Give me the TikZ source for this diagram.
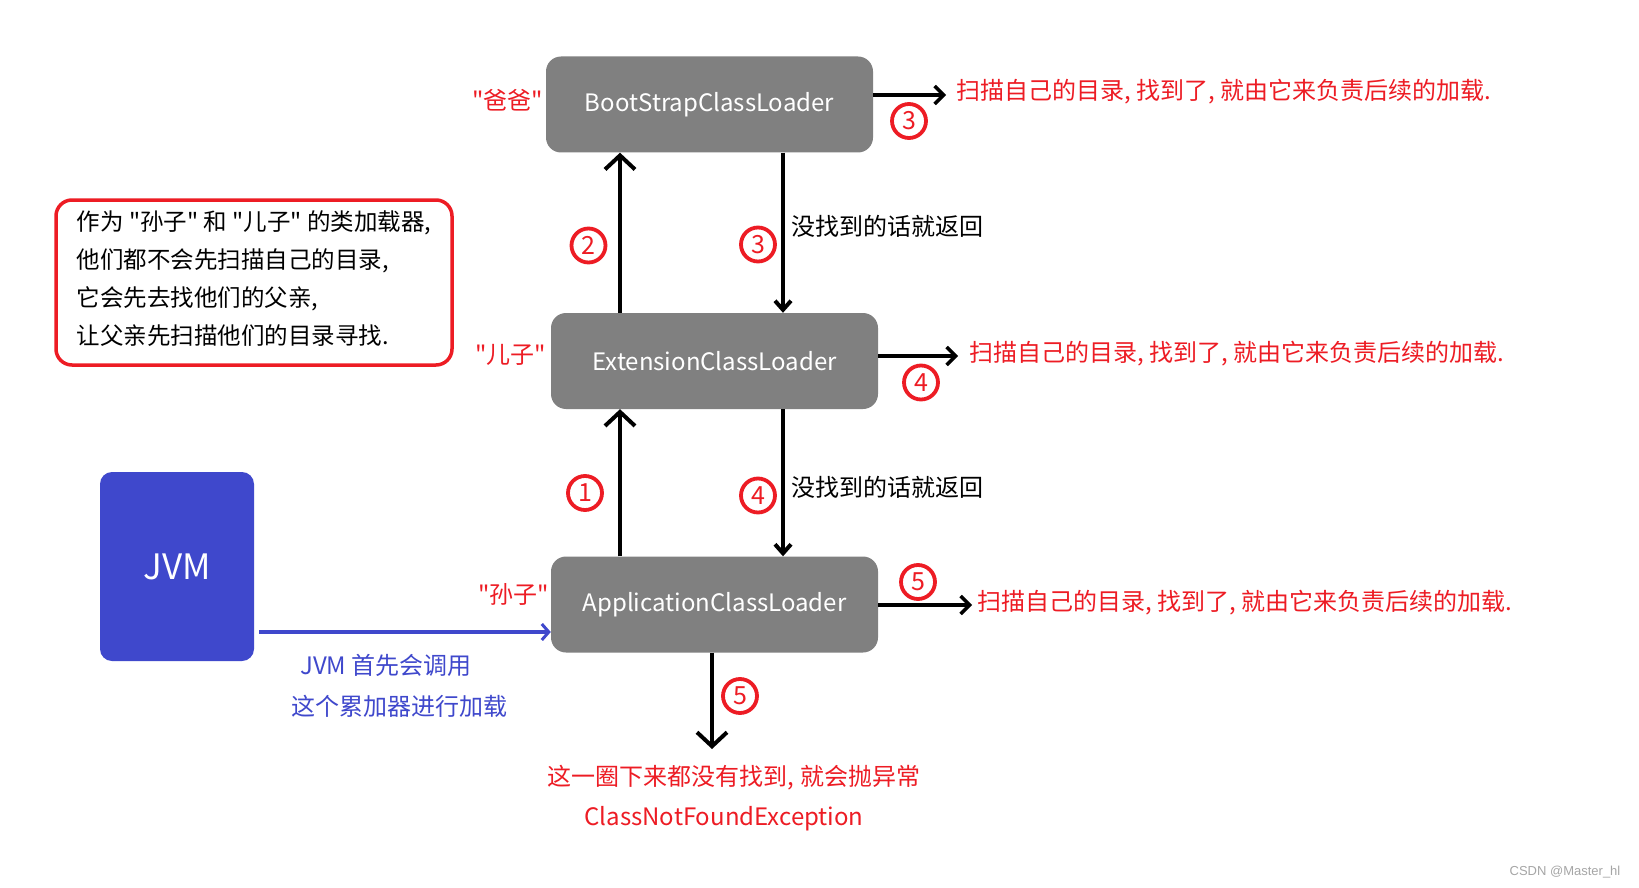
\documentclass[tikz,border=0pt]{standalone}
\usepackage{fontspec}
\setmainfont{Noto Sans CJK SC}[Ligatures=TeXOff]
\newfontfamily\wmfont{Liberation Sans}
\usetikzlibrary{arrows.meta, positioning, calc}
\definecolor{loadergray}{RGB}{128, 128, 128}
\definecolor{markred}{RGB}{237, 28, 36}
\definecolor{jvmblue}{RGB}{63, 72, 204}

\begin{document}
\begin{tikzpicture}[
  x=1pt, y=-1pt,
  every node/.style={font=\fontsize{24}{28}\selectfont, inner sep=0pt},
  loader/.style={fill=loadergray, rounded corners=15pt, minimum width=327pt, minimum height=96pt, text=white, font=\fontsize{24}{28}\selectfont},
  jvmbox/.style={fill=jvmblue, rounded corners=12pt, minimum width=154pt, minimum height=189pt, text=white, font=\fontsize{35}{40}\selectfont},
  notebox/.style={draw=markred, line width=3.5pt, rounded corners=16pt, minimum width=396pt, minimum height=165pt, align=left, font=\fontsize{23.5}{38}\selectfont},
  numcirc/.style={circle, draw=markred, line width=3.8pt, text=markred, minimum size=34pt, font=\fontsize{25}{25}\selectfont},
  redtext/.style={text=markred},
  uparrow/.style={line width=4pt, -{Straight Barb[length=14pt, width=30pt, line width=4pt]}},
  downarrow/.style={line width=4pt, -{Straight Barb[length=9pt, width=16pt, line width=4pt]}},
  sidearrow/.style={line width=3.5pt, -{Straight Barb[length=9pt, width=18pt, line width=3.5pt]}},
  jvmarrow/.style={line width=4pt, color=jvmblue, -{Straight Barb[length=7pt, width=16pt, line width=3pt]}}
]
  \fill[white] (0,0) rectangle (1639,888);
  \useasboundingbox (0,0) rectangle (1639,888);

  % loaders
  \node[loader] (boot) at (709.5, 104.5) {BootStrapClassLoader};
  \node[loader] (ext) at (714.5, 361) {ExtensionClassLoader};
  \node[loader] (app) at (714.5, 604.5) {ApplicationClassLoader};
  \node[jvmbox] (jvm) at (177, 566.5) {JVM};

  \node[redtext, anchor=east] (dad) at (543, 100) {"爸爸"};
  \node[redtext, anchor=east] (son) at (546, 355) {"儿子"};
  \node[redtext, anchor=east] (grandson) at (549, 594) {"孙子"};

  \node[notebox] (note) at (254, 282.5) {作为 "孙子" 和 "儿子" 的类加载器,\\他们都不会先扫描自己的目录,\\它会先去找他们的父亲,\\让父亲先扫描他们的目录寻找.\rule[-10pt]{0pt}{1pt}};

  % delegation up / return down
  \coordinate (upx) at (620, 0);
  \coordinate (downx) at (783, 0);
  \draw[uparrow] (app.north -| upx) -- (ext.south -| upx);
  \draw[uparrow] (ext.north -| upx) -- (boot.south -| upx);
  \draw[downarrow] (boot.south -| downx) -- (ext.north -| downx);
  \draw[downarrow] (ext.south -| downx) -- (app.north -| downx);

  \node[numcirc] (n2) at (588.5, 245.5) {2};
  \node[numcirc] (n3a) at (758, 244.5) {3};
  \node[numcirc] (n1) at (585, 493) {1};
  \node[numcirc] (n4a) at (758, 495.5) {4};
  \node[anchor=west] (back1) at (791, 226) {没找到的话就返回};
  \node[anchor=west] (back2) at (791, 487) {没找到的话就返回};

  % scan own directory
  \coordinate (bootout) at (946, 95);
  \coordinate (extout) at (958, 356);
  \coordinate (appout) at (972, 605);
  \draw[sidearrow] (boot.east |- bootout) -- (bootout);
  \draw[sidearrow] (ext.east |- extout) -- (extout);
  \draw[sidearrow] (app.east |- appout) -- (appout);
  \node[redtext, anchor=west] (bootscan) at (956, 92) {扫描自己的目录, 找到了, 就由它来负责后续的加载.};
  \node[redtext, anchor=west] (extscan) at (969, 354) {扫描自己的目录, 找到了, 就由它来负责后续的加载.};
  \node[redtext, anchor=west] (appscan) at (977, 603) {扫描自己的目录, 找到了, 就由它来负责后续的加载.};
  \node[numcirc] (n3b) at (909, 121) {3};
  \node[numcirc] (n4b) at (921, 382.5) {4};
  \node[numcirc] (n5a) at (918, 582) {5};

  % JVM call
  \coordinate (callrow) at (0, 632);
  \draw[jvmarrow, shorten <=5pt] (jvm.east |- callrow) -- (app.west |- callrow);
  \node[text=jvmblue] (call1) at (386, 665) {JVM 首先会调用};
  \node[text=jvmblue] (call2) at (399, 706.5) {这个累加器进行加载};

  % not found
  \coordinate (failend) at (712, 749);
  \draw[uparrow] (app.south -| failend) -- (failend);
  \node[numcirc] (n5b) at (740, 696) {5};
  \node[redtext] (fail1) at (734, 778) {这一圈下来都没有找到, 就会抛异常};
  \node[redtext] (fail2) at (724, 818.5) {ClassNotFoundException};

  \node[text=gray!70, font=\wmfont\fontsize{13}{15}\selectfont] (mark) at (1565, 872) {CSDN @Master\_hl};
\end{tikzpicture}
\end{document}
